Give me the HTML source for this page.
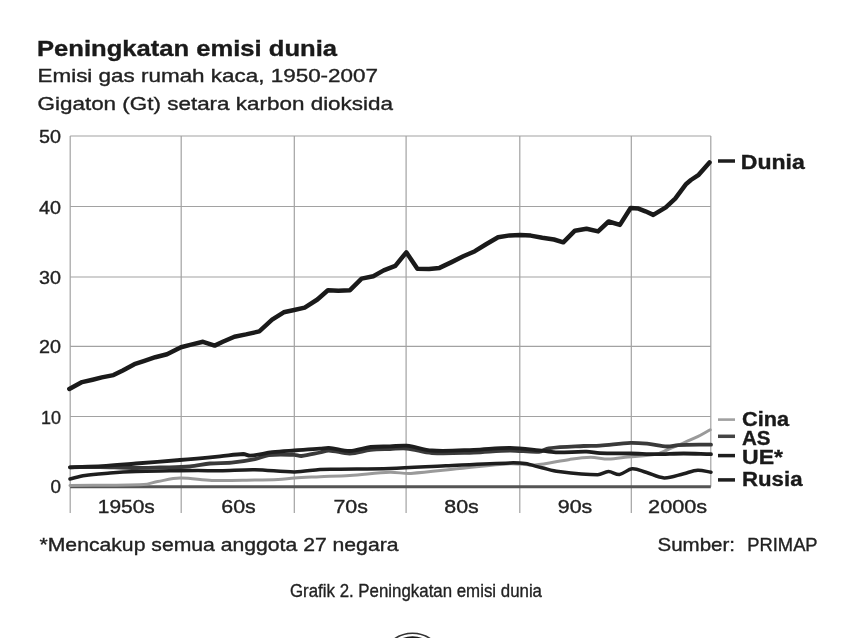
<!DOCTYPE html>
<html><head><meta charset="utf-8"><style>
html,body{margin:0;padding:0;background:#fff;width:860px;height:638px;overflow:hidden}
svg{display:block;font-family:"Liberation Sans",sans-serif;filter:blur(0.55px)}
text{stroke-width:0.35px}
</style></head><body>
<svg width="860" height="638" viewBox="0 0 860 638">
<rect width="860" height="638" fill="#fff"/>
<g stroke="#a2a2a2" stroke-width="1.2" fill="none">
<line x1="70.2" y1="136" x2="70.2" y2="513" />
<line x1="181.2" y1="136" x2="181.2" y2="513" />
<line x1="294.3" y1="136" x2="294.3" y2="513" />
<line x1="406.1" y1="136" x2="406.1" y2="513" />
<line x1="519.8" y1="136" x2="519.8" y2="513" />
<line x1="631.3" y1="136" x2="631.3" y2="513" />
<line x1="70.2" y1="136" x2="710.8" y2="136" />
<line x1="70.2" y1="206.5" x2="710.8" y2="206.5" />
<line x1="70.2" y1="277" x2="710.8" y2="277" />
<line x1="70.2" y1="346.3" x2="710.8" y2="346.3" />
<line x1="70.2" y1="416.5" x2="710.8" y2="416.5" />
<line x1="710.8" y1="136" x2="710.8" y2="486.7" />
</g>
<line x1="70.2" y1="486.7" x2="710.8" y2="486.7" stroke="#555" stroke-width="3"/>
<g fill="none" stroke-linejoin="round" stroke-linecap="round">
<path d="M70.0,485.5 C94.6,485.2 119.1,485.6 143.7,484.5 C148.4,484.3 153.0,482.3 157.7,481.5 C165.1,480.2 172.6,478.2 180.0,478.1 C190.6,477.9 201.3,480.2 211.9,480.5 C226.2,480.9 240.6,480.3 254.9,480.1 C262.6,480.0 270.4,479.9 278.1,479.5 C283.5,479.2 289.0,478.3 294.4,477.9 C302.9,477.3 311.5,477.1 320.0,476.7 C329.9,476.3 339.9,476.1 349.8,475.5 C363.2,474.7 376.6,472.8 390.0,472.3 C397.0,472.1 403.9,473.8 410.9,473.4 C427.2,472.5 443.5,470.1 459.8,468.5 C476.5,466.9 493.3,464.5 510.0,463.7 C518.3,463.3 526.6,465.6 534.9,465.0 C546.5,464.2 558.2,461.0 569.8,459.4 C576.8,458.4 583.7,457.4 590.7,457.3 C596.6,457.3 602.5,459.1 608.4,459.1 C614.9,459.0 621.4,457.7 627.9,457.0 C637.2,456.0 646.5,455.9 655.8,454.2 C659.5,453.5 663.3,451.5 667.0,450.0 C670.2,448.7 673.5,447.2 676.7,445.8 C683.7,442.8 690.7,440.0 697.7,436.7 C701.9,434.7 706.0,432.1 710.2,429.8" stroke="#9a9a9a" stroke-width="3"/>
<path d="M70.0,479.0 C75.0,477.8 80.0,476.2 85.0,475.5 C93.3,474.2 101.7,473.7 110.0,473.0 C118.7,472.3 127.3,471.8 136.0,471.5 C144.0,471.2 152.0,471.1 160.0,471.0 C172.7,470.8 185.3,470.5 198.0,470.5 C205.3,470.5 212.7,470.9 220.0,470.8 C231.6,470.6 243.3,469.5 254.9,469.7 C268.1,469.9 281.2,471.9 294.4,471.9 C302.9,471.9 311.5,470.1 320.0,469.5 C325.3,469.2 330.5,469.3 335.8,469.2 C353.9,468.9 371.9,469.1 390.0,468.5 C408.6,467.9 427.2,466.6 445.8,465.7 C467.2,464.7 488.6,463.5 510.0,462.9 C515.0,462.8 520.1,462.8 525.1,463.6 C530.7,464.5 536.3,466.5 541.9,467.8 C547.5,469.1 553.0,470.9 558.6,471.6 C571.6,473.2 584.7,474.8 597.7,474.8 C601.3,474.8 604.8,471.7 608.4,471.6 C612.1,471.5 615.8,474.8 619.5,474.4 C623.7,473.9 627.9,469.1 632.1,468.8 C636.7,468.4 641.4,471.0 646.0,472.3 C652.1,474.0 658.1,477.7 664.2,477.9 C670.7,478.1 677.2,475.2 683.7,473.7 C688.4,472.6 693.0,470.4 697.7,470.2 C702.1,470.0 706.6,471.6 711.0,472.3" stroke="#1e1e1e" stroke-width="3.5"/>
<path d="M70.0,467.3 C80.0,467.2 90.0,467.0 100.0,467.0 C106.7,467.0 113.3,467.3 120.0,467.5 C125.3,467.6 130.7,468.0 136.0,468.0 C144.0,468.0 152.0,467.7 160.0,467.5 C170.0,467.2 180.0,467.3 190.0,466.5 C196.7,466.0 203.3,464.1 210.0,463.5 C217.2,462.8 224.4,463.4 231.6,462.7 C239.4,462.0 247.1,460.8 254.9,459.2 C259.5,458.3 264.2,455.6 268.8,455.1 C277.3,454.2 285.9,454.7 294.4,454.9 C296.7,455.0 299.1,456.2 301.4,456.0 C307.6,455.4 313.8,453.7 320.0,452.5 C322.9,451.9 325.9,450.4 328.8,450.5 C335.8,450.7 342.8,453.6 349.8,453.5 C356.8,453.4 363.7,450.6 370.7,449.8 C377.1,449.1 383.6,449.2 390.0,449.0 C395.6,448.8 401.1,448.0 406.7,448.5 C415.1,449.3 423.5,452.5 431.9,453.0 C445.8,453.8 459.8,452.9 473.7,452.5 C485.8,452.1 497.9,450.6 510.0,450.5 C519.7,450.4 529.3,452.3 539.0,451.8 C542.3,451.6 545.5,448.7 548.8,448.3 C560.4,446.8 572.1,446.6 583.7,446.0 C589.1,445.7 594.6,446.0 600.0,445.6 C610.2,444.9 620.5,443.2 630.7,442.8 C636.7,442.6 642.8,443.3 648.8,443.9 C654.9,444.5 660.9,446.3 667.0,446.5 C670.7,446.7 674.4,445.3 678.1,445.1 C689.1,444.6 700.0,444.8 711.0,444.6" stroke="#3a3a3a" stroke-width="3.8"/>
<path d="M70.0,467.3 C80.6,466.9 91.3,466.8 101.9,466.2 C113.3,465.5 124.6,464.4 136.0,463.5 C150.7,462.3 165.3,461.3 180.0,460.0 C193.3,458.9 206.7,457.6 220.0,456.3 C227.8,455.6 235.5,454.2 243.3,454.0 C245.6,454.0 247.9,455.8 250.2,455.7 C257.6,455.2 264.9,453.1 272.3,452.2 C279.7,451.3 287.0,451.0 294.4,450.5 C302.9,449.9 311.5,449.4 320.0,448.7 C322.9,448.5 325.9,447.6 328.8,447.8 C335.8,448.3 342.8,451.1 349.8,451.0 C356.8,450.9 363.7,447.8 370.7,447.0 C377.1,446.3 383.6,446.6 390.0,446.4 C395.6,446.2 401.1,445.2 406.7,445.7 C415.1,446.5 423.5,450.0 431.9,450.5 C445.8,451.4 459.8,450.3 473.7,449.8 C485.8,449.4 497.9,447.7 510.0,447.8 C519.7,447.9 529.3,449.3 539.0,450.3 C544.6,450.9 550.2,452.2 555.8,452.4 C566.0,452.7 576.3,451.5 586.5,451.7 C591.0,451.8 595.5,453.0 600.0,453.2 C610.2,453.6 620.5,453.3 630.7,453.5 C639.1,453.6 647.4,454.2 655.8,454.2 C665.1,454.2 674.4,453.5 683.7,453.5 C692.8,453.5 701.9,454.0 711.0,454.2" stroke="#1e1e1e" stroke-width="3.8"/>
<polyline points="69.3,389.0 82.1,382.09999999999997 92.6,379.7 101.9,377.4 113.5,375.09999999999997 122.8,370.4 134.4,364.2 143.7,361.09999999999997 155.3,357.2 167.0,354.2 181.0,347.2 190.2,344.9 203.0,341.79999999999995 214.7,345.59999999999997 222.8,341.79999999999995 234.4,336.7 246.0,334.4 259.3,331.4 272.1,319.7 283.7,312.29999999999995 294.2,310.0 304.7,307.59999999999997 317.4,299.5 327.9,290.2 338.4,290.7 350.0,290.2 361.6,278.59999999999997 373.3,276.2 383.7,270.4 395.3,265.79999999999995 406.3,252.3 417.4,268.79999999999995 429.1,269.09999999999997 439.5,267.9 451.6,262.09999999999997 463.3,256.3 474.9,251.2 486.5,244.0 498.1,237.2 509.8,235.39999999999998 520.2,234.89999999999998 530.7,235.6 542.3,237.7 554.0,239.5 563.3,242.29999999999998 574.9,230.7 586.5,228.79999999999998 598.1,231.39999999999998 608.6,221.5 619.9,224.9 630.6,208.0 638.4,208.6 645.4,211.3 653.3,214.9 665.8,207.4 675.2,198.7 686.2,183.9 690.9,180.0 698.7,174.8 709.5,162.5" stroke="#1a1a1a" stroke-width="4.5"/>
</g>
<line x1="718" y1="161" x2="735" y2="161" stroke="#1e1e1e" stroke-width="3.5" />
<line x1="718" y1="419.6" x2="735" y2="419.6" stroke="#a0a0a0" stroke-width="2.6" />
<line x1="718" y1="436.3" x2="735" y2="436.3" stroke="#444" stroke-width="3.5" />
<line x1="718" y1="455.6" x2="735" y2="455.6" stroke="#1e1e1e" stroke-width="3.5" />
<line x1="718" y1="479.9" x2="735" y2="479.9" stroke="#1e1e1e" stroke-width="3.5" />
<text x="37" y="55.9" font-size="21.5" font-weight="bold" text-anchor="start" fill="#1a1a1a" stroke="#1a1a1a" stroke-width="1.1" textLength="300" lengthAdjust="spacingAndGlyphs">Peningkatan emisi dunia</text>
<text x="37.5" y="82.3" font-size="18.5" text-anchor="start" fill="#222" stroke="#222" stroke-width="0.7" textLength="340.5" lengthAdjust="spacingAndGlyphs">Emisi gas rumah kaca, 1950-2007</text>
<text x="37.5" y="109.6" font-size="18.5" text-anchor="start" fill="#222" stroke="#222" stroke-width="0.7" textLength="355.5" lengthAdjust="spacingAndGlyphs">Gigaton (Gt) setara karbon dioksida</text>
<text x="61" y="143" font-size="18.5" text-anchor="end" fill="#222" stroke="#222" stroke-width="0.7" textLength="22" lengthAdjust="spacingAndGlyphs">50</text>
<text x="61" y="213.5" font-size="18.5" text-anchor="end" fill="#222" stroke="#222" stroke-width="0.7" textLength="22" lengthAdjust="spacingAndGlyphs">40</text>
<text x="61" y="284" font-size="18.5" text-anchor="end" fill="#222" stroke="#222" stroke-width="0.7" textLength="22" lengthAdjust="spacingAndGlyphs">30</text>
<text x="61" y="353.3" font-size="18.5" text-anchor="end" fill="#222" stroke="#222" stroke-width="0.7" textLength="22" lengthAdjust="spacingAndGlyphs">20</text>
<text x="61" y="423.5" font-size="18.5" text-anchor="end" fill="#222" stroke="#222" stroke-width="0.7" textLength="20" lengthAdjust="spacingAndGlyphs">10</text>
<text x="61" y="493.4" font-size="18.5" text-anchor="end" fill="#222" stroke="#222" stroke-width="0.7" textLength="10.5" lengthAdjust="spacingAndGlyphs">0</text>
<text x="97.8" y="512.5" font-size="18.5" text-anchor="start" fill="#222" stroke="#222" stroke-width="0.7" textLength="57" lengthAdjust="spacingAndGlyphs">1950s</text>
<text x="221.25" y="512.5" font-size="18.5" text-anchor="start" fill="#222" stroke="#222" stroke-width="0.7" textLength="34.5" lengthAdjust="spacingAndGlyphs">60s</text>
<text x="333.45" y="512.5" font-size="18.5" text-anchor="start" fill="#222" stroke="#222" stroke-width="0.7" textLength="34.5" lengthAdjust="spacingAndGlyphs">70s</text>
<text x="444.25" y="512.5" font-size="18.5" text-anchor="start" fill="#222" stroke="#222" stroke-width="0.7" textLength="34.5" lengthAdjust="spacingAndGlyphs">80s</text>
<text x="557.75" y="512.5" font-size="18.5" text-anchor="start" fill="#222" stroke="#222" stroke-width="0.7" textLength="34.5" lengthAdjust="spacingAndGlyphs">90s</text>
<text x="648.1" y="512.5" font-size="18.5" text-anchor="start" fill="#222" stroke="#222" stroke-width="0.7" textLength="59" lengthAdjust="spacingAndGlyphs">2000s</text>
<text x="39.5" y="551" font-size="18.5" text-anchor="start" fill="#222" stroke="#222" stroke-width="0.7" textLength="359" lengthAdjust="spacingAndGlyphs">*Mencakup semua anggota 27 negara</text>
<text x="657.5" y="551" font-size="18.5" text-anchor="start" fill="#222" stroke="#222" stroke-width="0.7" textLength="77.5" lengthAdjust="spacingAndGlyphs">Sumber:</text>
<text x="747.3" y="551" font-size="18.5" text-anchor="start" fill="#222" stroke="#222" stroke-width="0.7" textLength="70.3" lengthAdjust="spacingAndGlyphs">PRIMAP</text>
<text x="740.8" y="168.5" font-size="20" font-weight="bold" text-anchor="start" fill="#1a1a1a" stroke="#1a1a1a" stroke-width="1.1" textLength="64" lengthAdjust="spacingAndGlyphs">Dunia</text>
<text x="742" y="426" font-size="20" font-weight="bold" text-anchor="start" fill="#1a1a1a" stroke="#1a1a1a" stroke-width="1.1" textLength="47" lengthAdjust="spacingAndGlyphs">Cina</text>
<text x="742" y="445.4" font-size="20" font-weight="bold" text-anchor="start" fill="#1a1a1a" stroke="#1a1a1a" stroke-width="1.1" textLength="28.5" lengthAdjust="spacingAndGlyphs">AS</text>
<text x="742" y="464.2" font-size="20" font-weight="bold" text-anchor="start" fill="#1a1a1a" stroke="#1a1a1a" stroke-width="1.1" textLength="41" lengthAdjust="spacingAndGlyphs">UE*</text>
<text x="742" y="486.2" font-size="20" font-weight="bold" text-anchor="start" fill="#1a1a1a" stroke="#1a1a1a" stroke-width="1.1" textLength="60.5" lengthAdjust="spacingAndGlyphs">Rusia</text>
<text x="290" y="597.2" font-size="19" text-anchor="start" fill="#222" stroke="#222" stroke-width="0.5" textLength="252" lengthAdjust="spacingAndGlyphs">Grafik 2. Peningkatan emisi dunia</text>
<circle cx="412.5" cy="665" r="31.7" fill="none" stroke="#333" stroke-width="1.6"/>
<circle cx="412.5" cy="665" r="28.7" fill="#1a1a1a"/>
</svg>
</body></html>
